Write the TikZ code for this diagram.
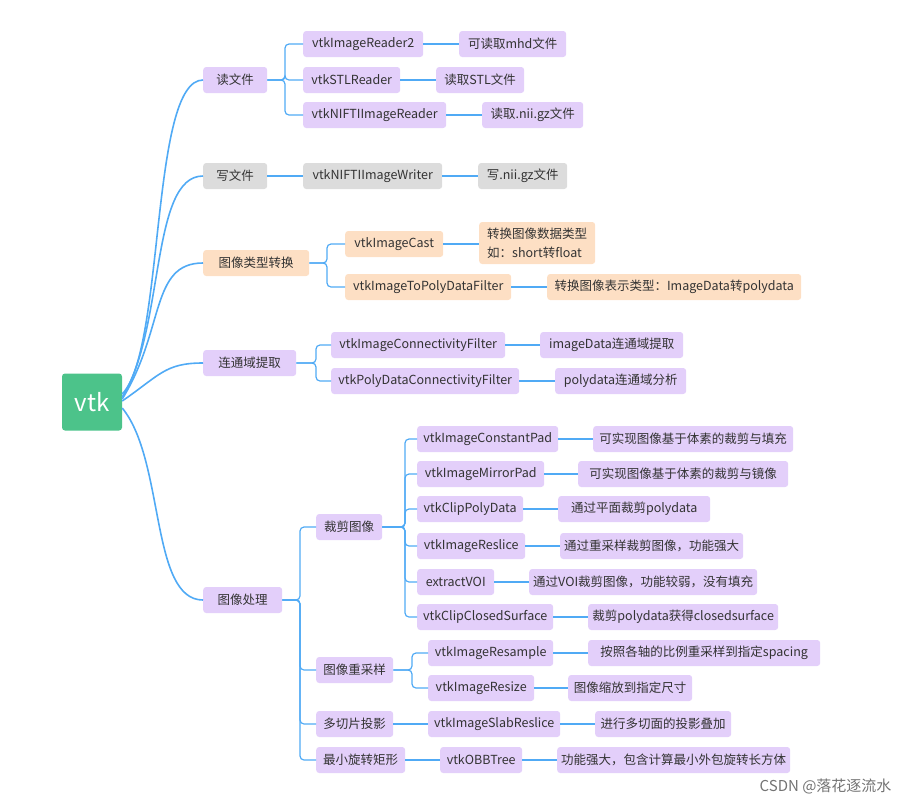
\documentclass[tikz,border=0pt]{standalone}
\usepackage{fontspec}
\setmainfont{Noto Sans CJK SC}
\begin{document}
\begin{tikzpicture}[x=1pt,y=-1pt,
  bx/.style={anchor=west,minimum height=26pt,rounded corners=3pt,inner xsep=4pt,text=black!80,font=\fontsize{12.5}{15}\selectfont},
  pu/.style={bx,fill=purpleF},
  gr/.style={bx,fill=grayF},
  og/.style={bx,fill=orangeF},
  conn/.style={draw=lineC,line width=1.2pt,rounded corners=4pt},
  mcurve/.style={draw=lineC,line width=1.6pt}]
\definecolor{purpleF}{RGB}{227,207,250}
\definecolor{grayF}{RGB}{220,220,220}
\definecolor{orangeF}{RGB}{253,223,196}
\definecolor{lineC}{RGB}{80,170,245}
\definecolor{greenF}{RGB}{76,195,138}
\useasboundingbox (0,0) rectangle (909,804);
\newcommand\nd[6]{\node[#6,minimum width=#4pt] (#1) at (#2,#3) {#5};}
% root
\node[fill=greenF,rounded corners=3pt,minimum width=60pt,minimum height=57pt,text=white,font=\fontsize{24}{28}\selectfont] (root) at (92,402) {vtk};
% level 1
\nd{r}{203}{80}{64}{读文件}{pu}
\nd{w}{203}{176}{64}{写文件}{gr}
\nd{t}{203}{263}{106}{图像类型转换}{og}
\nd{c}{203}{363}{93}{连通域提取}{pu}
\nd{p}{203}{600}{79}{图像处理}{pu}
% read
\nd{r1}{303}{44}{120}{vtkImageReader2}{pu}
\nd{r1d}{459}{44}{107}{可读取mhd文件}{pu}
\nd{r2}{303}{80}{97}{vtkSTLReader}{pu}
\nd{r2d}{436}{80}{88}{读取STL文件}{pu}
\nd{r3}{303}{115}{143}{vtkNIFTIImageReader}{pu}
\nd{r3d}{482}{115}{101}{读取.nii.gz文件}{pu}
% write
\nd{w1}{303}{176}{139}{vtkNIFTIImageWriter}{gr}
\nd{w1d}{478}{176}{89}{写.nii.gz文件}{gr}
% type
\nd{t1}{345}{244}{98}{vtkImageCast}{og}
\node[og,minimum width=116pt,minimum height=42pt,align=left,font=\fontsize{12.5}{19}\selectfont] (t1d) at (479,243) {转换图像数据类型\\如：short转float};
\nd{t2}{345}{287}{166}{vtkImageToPolyDataFilter}{og}
\nd{t2d}{547}{287}{254}{转换图像表示类型：ImageData转polydata}{og}
% connectivity
\nd{c1}{331}{345}{174}{vtkImageConnectivityFilter}{pu}
\nd{c1d}{540}{345}{143}{imageData连通域提取}{pu}
\nd{c2}{331}{381}{188}{vtkPolyDataConnectivityFilter}{pu}
\nd{c2d}{555}{381}{131}{polydata连通域分析}{pu}
% processing
\nd{p1}{316}{527}{66}{裁剪图像}{pu}
\nd{p2}{316}{670}{77}{图像重采样}{pu}
\nd{p3}{316}{724}{77}{多切片投影}{pu}
\nd{p4}{316}{760}{89}{最小旋转矩形}{pu}
\nd{a1}{417}{439}{141}{vtkImageConstantPad}{pu}
\nd{a1d}{593}{439}{200}{可实现图像基于体素的裁剪与填充}{pu}
\nd{a2}{417}{474}{127}{vtkImageMirrorPad}{pu}
\nd{a2d}{578}{474}{210}{可实现图像基于体素的裁剪与镜像}{pu}
\nd{a3}{417}{509}{106}{vtkClipPolyData}{pu}
\nd{a3d}{558}{509}{152}{通过平面裁剪polydata}{pu}
\nd{a4}{417}{546}{108}{vtkImageReslice}{pu}
\nd{a4d}{560}{546}{182}{通过重采样裁剪图像，功能强大}{pu}
\nd{a5}{417}{582}{77}{extractVOI}{pu}
\nd{a5d}{529}{582}{226}{通过VOI裁剪图像，功能较弱，没有填充}{pu}
\nd{a6}{417}{617}{136}{vtkClipClosedSurface}{pu}
\nd{a6d}{588}{617}{190}{裁剪polydata获得closedsurface}{pu}
\nd{b1}{428}{653}{125}{vtkImageResample}{pu}
\nd{b1d}{588}{653}{232}{按照各轴的比例重采样到指定spacing}{pu}
\nd{b2}{428}{688}{106}{vtkImageResize}{pu}
\nd{b2d}{568}{688}{124}{图像缩放到指定尺寸}{pu}
\nd{s1}{428}{724}{132}{vtkImageSlabReslice}{pu}
\nd{s1d}{595}{724}{136}{进行多切面的投影叠加}{pu}
\nd{o1}{440}{760}{82}{vtkOBBTree}{pu}
\nd{o1d}{557}{760}{228}{功能强大，包含计算最小外包旋转长方体}{pu}
% main curves
\draw[mcurve] (root.east) ++(0,-8) .. controls (165,350) and (150,80) .. (r.west);
\draw[mcurve] (root.east) ++(0,-5) .. controls (165,330) and (150,176) .. (w.west);
\draw[mcurve] (root.east) ++(0,-3) .. controls (165,330) and (150,263) .. (t.west);
\draw[mcurve] (root.east) ++(0,-1) .. controls (160,375) and (165,363) .. (c.west);
\draw[mcurve] (root.east) ++(0,6) .. controls (165,460) and (150,600) .. (p.west);
% read bus
\foreach \ch in {r1,r2,r3} \draw[conn] (r.east) -- (285,80) |- (\ch.west);
\foreach \ch in {t1,t2} \draw[conn] (t.east) -- (327,263) |- (\ch.west);
\foreach \ch in {c1,c2} \draw[conn] (c.east) -- (316,363) |- (\ch.west);
\foreach \ch in {p1,p2,p3,p4} \draw[conn] (p.east) -- (300,600) |- (\ch.west);
\foreach \ch in {a1,a2,a3,a4,a5,a6} \draw[conn] (p1.east) -- (405,527) |- (\ch.west);
\foreach \ch in {b1,b2} \draw[conn] (p2.east) -- (412,670) |- (\ch.west);
\draw[conn] (w.east) -- (w1.west);
\draw[conn] (p3.east) -- (s1.west);
\draw[conn] (p4.east) -- (o1.west);
\foreach \a/\b in {r1/r1d,r2/r2d,r3/r3d,w1/w1d,t2/t2d,c1/c1d,c2/c2d,a1/a1d,a2/a2d,a3/a3d,a4/a4d,a5/a5d,a6/a6d,b1/b1d,b2/b2d,s1/s1d,o1/o1d}
  \draw[conn] (\a.east) -- (\b.west);
\draw[conn] (t1.east) -- (t1d.west |- t1.east);
\node[anchor=east,text=black!55,font=\fontsize{15}{18}\selectfont] (wm) at (895,786) {CSDN @落花逐流水};
\end{tikzpicture}
\end{document}
